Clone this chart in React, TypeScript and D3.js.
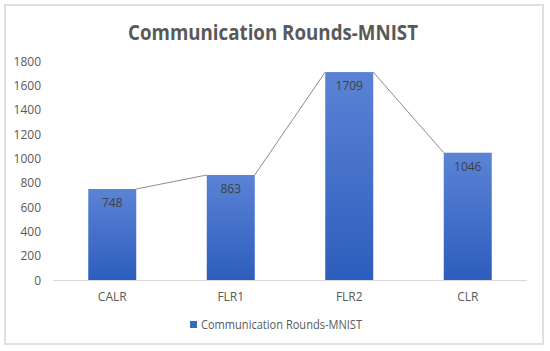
import React from "react";
import * as d3 from "d3";

const categories = ["CALR", "FLR1", "FLR2", "CLR"];
const values = [748, 863, 1709, 1046];
const yTicks = [0, 200, 400, 600, 800, 1000, 1200, 1400, 1600, 1800];
const title = "Communication Rounds-MNIST";
const seriesName = "Communication Rounds-MNIST";

export default function App() {
  const W = 550, H = 351;
  const left = 53, right = 527, top = 61, bottom = 280;
  const x = d3.scaleBand().domain(categories).range([left, right]).paddingInner(0.595).paddingOuter(0.2975);
  const y = d3.scaleLinear().domain([0, 1800]).range([bottom, top]);
  const bw = x.bandwidth();
  const font = "'Open Sans', 'Liberation Sans', sans-serif";
  const seriesLines: [number, number, number, number][] = [];
  for (let i = 0; i < categories.length - 1; i++) {
    seriesLines.push([
      (x(categories[i]) as number) + bw,
      y(values[i]),
      x(categories[i + 1]) as number,
      y(values[i + 1]),
    ]);
  }
  return (
    <svg width={W} height={H} style={{ position: "absolute", left: 0, top: 0 }}>
      <defs>
        <linearGradient id="barGrad" x1="0" y1="0" x2="0" y2="1">
          <stop offset="0%" stopColor="#5b83d5" />
          <stop offset="100%" stopColor="#2d5dbd" />
        </linearGradient>
      </defs>
      <rect x={0} y={0} width={W} height={H} fill="#ffffff" />
      <rect x={5} y={5} width={538} height={339} fill="#ffffff" stroke="#e0e0e0" strokeWidth={2} />
      <text x={273} y={40} textAnchor="middle" fontFamily={font} fontWeight="bold" fontSize={22} fill="#595959"
        textLength={290} lengthAdjust="spacingAndGlyphs">
        {title}
      </text>
      {yTicks.map((t) => (
        <text key={t} x={41} y={y(t) + 4.5} textAnchor="end" fontFamily={font} fontSize={12} fill="#595959">
          {t}
        </text>
      ))}
      <line x1={left} x2={right} y1={bottom + 0.5} y2={bottom + 0.5} stroke="#d9d9d9" />
      {categories.map((c, i) => (
        <rect key={c} x={x(c)} y={y(values[i])} width={bw} height={bottom - y(values[i])} fill="url(#barGrad)" />
      ))}
      {seriesLines.map((l, i) => (
        <line key={i} x1={l[0]} y1={l[1]} x2={l[2]} y2={l[3]} stroke="#8c8c8c" strokeWidth={1} />
      ))}
      {categories.map((c, i) => (
        <text key={c} x={(x(c) as number) + bw / 2} y={y(values[i]) + 18} textAnchor="middle" fontFamily={font} fontSize={12} fill="#404040">
          {values[i]}
        </text>
      ))}
      {categories.map((c) => (
        <text key={c} x={(x(c) as number) + bw / 2} y={301} textAnchor="middle" fontFamily={font} fontSize={12} fill="#595959">
          {c}
        </text>
      ))}
      <rect x={190} y={321} width={7} height={7} fill="#3a68c6" />
      <text x={201} y={329} fontFamily={font} fontSize={12} fill="#595959" textLength={161} lengthAdjust="spacingAndGlyphs">
        {seriesName}
      </text>
    </svg>
  );
}
